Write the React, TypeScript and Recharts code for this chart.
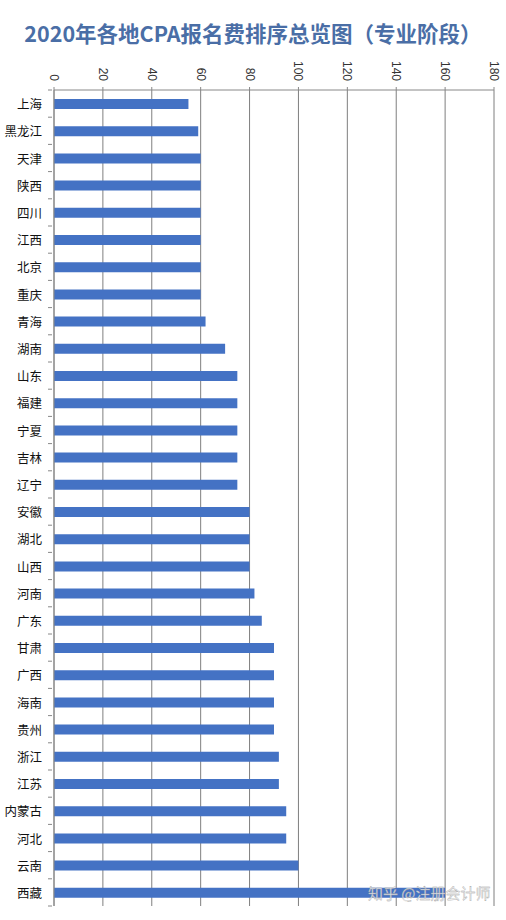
import React from "react";
import { BarChart, Bar, XAxis, YAxis, CartesianGrid } from "recharts";

const regions = ["上海","黑龙江","天津","陕西","四川","江西","北京","重庆","青海","湖南","山东","福建","宁夏","吉林","辽宁","安徽","湖北","山西","河南","广东","甘肃","广西","海南","贵州","浙江","江苏","内蒙古","河北","云南","西藏"];
const fees = [55,59,60,60,60,60,60,60,62,70,75,75,75,75,75,80,80,80,82,85,90,90,90,90,92,92,95,95,100,160];
const xTicks = [0,20,40,60,80,100,120,140,160,180];
const title = "2020年各地CPA报名费排序总览图（专业阶段）";
const watermark = "知乎 @注册会计师";

const data = regions.map((name, i) => ({ name, fee: fees[i] }));

const XTick = (props: any) => {
  const { x, y, payload } = props;
  return (
    <text x={x} y={y} transform={`rotate(90, ${x}, ${y})`} textAnchor="end" dominantBaseline="central"
      fontSize={12} fill="#333" fontFamily="'Liberation Sans', Arial, sans-serif">{payload.value}</text>
  );
};

const YTick = (props: any) => {
  const { x, y, payload, index } = props;
  const off = payload.offset || 13.6;
  return (
    <g>
      <text x={x} y={y} textAnchor="end" dominantBaseline="central" fontSize={12.5} fill="#111"
        fontFamily="'Noto Sans CJK SC', sans-serif">{payload.value}</text>
      <line x1={x + 6} x2={x + 10} y1={y + off} y2={y + off} stroke="#888" />
      {index === 0 ? <line x1={x + 6} x2={x + 10} y1={y - off} y2={y - off} stroke="#888" /> : null}
    </g>
  );
};

export default function App() {
  return (
    <div style={{ position: "absolute", left: 0, top: 0, width: 506, height: 920, background: "#fff" }}>
      <div style={{ position: "absolute", left: 0, top: 18, width: 506, textAlign: "center", fontFamily: "'Noto Sans CJK SC', sans-serif", fontWeight: 700, fontSize: 21.5, color: "#4a6ea6", lineHeight: "30px" }}>
        {title}
      </div>
      <BarChart width={506} height={920} data={data} layout="vertical"
        margin={{ top: 60, right: 12, bottom: 14, left: 0 }} barSize={10}>
        <CartesianGrid horizontal={false} vertical={true} stroke="#7f7f7f" />
        <XAxis type="number" orientation="top" domain={[0, 180]} ticks={xTicks} height={30}
          tickSize={3} tickMargin={6} stroke="#888" tick={<XTick />} interval={0} />
        <YAxis type="category" dataKey="name" width={54} stroke="#888" tickLine={false}
          tickMargin={6} tick={<YTick />} interval={0} />
        <Bar dataKey="fee" fill="#4472C4" isAnimationActive={false} />
      </BarChart>
      <div style={{ position: "absolute", left: 368, top: 883, width: 130, fontFamily: "'Noto Sans CJK SC', sans-serif", fontSize: 15, color: "rgba(235,235,235,0.9)", WebkitTextStroke: "0.3px #999", lineHeight: "20px", whiteSpace: "nowrap" }}>
        {watermark}
      </div>
    </div>
  );
}
